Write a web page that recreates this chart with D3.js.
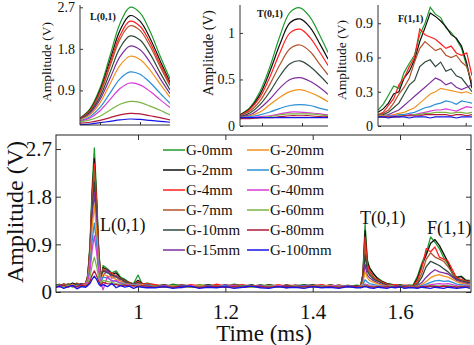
<!DOCTYPE html>
<html>
<head>
<meta charset="utf-8">
<script src="https://cdn.jsdelivr.net/npm/d3@7"></script>
<style>
  body { margin: 0; background: #fff; }
  svg { display: block; font-family: "Liberation Serif", "Times New Roman", serif; }
</style>
</head>
<body>
<div id="chart"></div>
<script>
// Guided-wave amplitude vs time for different gap sizes
const seriesNames = ['G-0mm', 'G-2mm', 'G-4mm', 'G-7mm', 'G-10mm', 'G-15mm',
                     'G-20mm', 'G-30mm', 'G-40mm', 'G-60mm', 'G-80mm', 'G-100mm'];
const seriesColors = ['#1f9a2b', '#111111', '#ff1f1f', '#b0522a', '#2e4a3c', '#7e2f9e',
                      '#f0921e', '#2b8fd6', '#d63bd6', '#7cb342', '#b2183c', '#1414e6'];

const mainXTicks = [1, 1.2, 1.4, 1.6];
const mainYTicks = [0, 0.9, 1.8, 2.7];

// main panel time base (ms)
const mainTime = [0.81,0.82,0.83,0.84,0.85,0.86,0.87,0.88,
  0.885,0.89,0.895,0.90,0.905,0.91,0.915,
  0.92,0.93,0.94,0.95,0.96,0.97,0.98,0.99,1.00,1.01,1.02,
  1.04,1.06,1.08,1.10,1.12,1.14,1.16,1.18,1.20,1.22,1.24,1.26,1.28,1.30,1.32,1.34,1.36,1.38,1.40,1.42,1.44,1.46,1.48,1.50,
  1.51,1.515,1.52,1.525,1.53,1.54,1.55,1.56,1.57,1.58,1.59,1.60,1.61,1.62,
  1.63,1.64,1.65,1.66,1.67,1.68,1.69,1.70,1.71,1.72,1.73,1.74,1.75,1.76];

// main panel amplitudes (V), one row per series
const mainAmp = [
  [0.12,0.15,0.10,0.16,0.13,0.17,0.12,0.15, 0.33,0.90,1.99,2.72,1.89,0.82,0.25,
   0.50,0.44,0.36,0.40,0.28,0.24,0.18,0.16,0.32,0.14,0.17,
   0.13,0.10,0.15,0.12,0.09,0.14,0.11,0.13,0.10,0.15,0.12,0.10,0.14,0.11,0.13,0.09,0.12,0.14,0.10,0.13,0.11,0.12,0.10,0.13,
   0.12,0.35,1.28,0.62,0.44,0.32,0.26,0.20,0.16,0.15,0.13,0.14,0.12,0.13,
   0.13,0.30,0.55,0.74,1.04,0.94,0.82,0.65,0.52,0.34,0.27,0.30,0.23,0.22],
  [0.14,0.11,0.15,0.12,0.17,0.13,0.16,0.14, 0.31,0.84,1.85,2.52,1.75,0.77,0.24,
   0.46,0.42,0.34,0.36,0.26,0.22,0.17,0.15,0.22,0.16,0.13,
   0.11,0.14,0.10,0.13,0.12,0.09,0.14,0.10,0.13,0.11,0.09,0.13,0.10,0.14,0.11,0.12,0.10,0.13,0.11,0.09,0.14,0.10,0.12,0.11,
   0.12,0.33,1.16,0.58,0.46,0.34,0.24,0.19,0.16,0.14,0.12,0.13,0.11,0.12,
   0.12,0.26,0.50,0.70,0.92,0.99,0.88,0.72,0.56,0.36,0.28,0.29,0.22,0.20],
  [0.10,0.14,0.12,0.15,0.11,0.16,0.13,0.17, 0.30,0.81,1.78,2.42,1.68,0.74,0.24,
   0.42,0.38,0.36,0.30,0.26,0.20,0.18,0.14,0.20,0.15,0.16,
   0.14,0.11,0.12,0.09,0.14,0.12,0.10,0.15,0.11,0.12,0.14,0.10,0.12,0.09,0.14,0.11,0.13,0.10,0.12,0.14,0.10,0.13,0.11,0.12,
   0.11,0.30,1.04,0.52,0.40,0.28,0.23,0.18,0.15,0.13,0.14,0.12,0.13,0.11,
   0.11,0.22,0.46,0.82,0.76,0.85,0.66,0.62,0.58,0.42,0.26,0.24,0.21,0.19],
  [0.13,0.10,0.16,0.12,0.15,0.11,0.14,0.16, 0.29,0.77,1.69,2.30,1.60,0.71,0.23,
   0.44,0.40,0.30,0.32,0.24,0.21,0.16,0.15,0.19,0.13,0.15,
   0.10,0.13,0.11,0.14,0.10,0.12,0.13,0.09,0.12,0.14,0.10,0.12,0.11,0.13,0.09,0.14,0.11,0.10,0.13,0.11,0.12,0.09,0.13,0.10,
   0.12,0.27,0.87,0.46,0.36,0.27,0.21,0.17,0.14,0.13,0.12,0.11,0.12,0.13,
   0.11,0.18,0.36,0.62,0.74,0.66,0.62,0.58,0.48,0.36,0.24,0.22,0.20,0.18],
  [0.11,0.13,0.11,0.14,0.12,0.15,0.11,0.13, 0.28,0.71,1.53,2.08,1.45,0.65,0.22,
   0.40,0.36,0.32,0.28,0.25,0.19,0.17,0.13,0.18,0.14,0.12,
   0.12,0.09,0.13,0.11,0.12,0.10,0.14,0.11,0.09,0.13,0.11,0.14,0.09,0.12,0.10,0.13,0.09,0.12,0.14,0.10,0.11,0.13,0.09,0.12,
   0.11,0.24,0.70,0.40,0.32,0.24,0.20,0.16,0.13,0.12,0.11,0.13,0.11,0.12,
   0.10,0.15,0.28,0.48,0.58,0.54,0.50,0.44,0.38,0.30,0.24,0.21,0.19,0.17],
  [0.09,0.12,0.14,0.10,0.13,0.11,0.15,0.12, 0.26,0.65,1.39,1.88,1.32,0.60,0.21,
   0.30,0.42,0.26,0.30,0.20,0.18,0.14,0.15,0.16,0.12,0.14,
   0.09,0.12,0.10,0.13,0.09,0.11,0.12,0.10,0.14,0.09,0.12,0.10,0.13,0.10,0.12,0.08,0.13,0.11,0.09,0.12,0.10,0.11,0.12,0.09,
   0.10,0.20,0.52,0.32,0.27,0.21,0.17,0.14,0.12,0.11,0.12,0.10,0.11,0.10,
   0.10,0.12,0.18,0.28,0.36,0.42,0.38,0.36,0.34,0.28,0.22,0.19,0.17,0.15],
  [0.12,0.10,0.13,0.11,0.14,0.10,0.12,0.14, 0.24,0.58,1.21,1.64,1.15,0.53,0.20,
   0.34,0.30,0.28,0.24,0.20,0.16,0.15,0.13,0.15,0.14,0.12,
   0.11,0.10,0.12,0.09,0.11,0.13,0.09,0.12,0.10,0.11,0.09,0.12,0.10,0.11,0.13,0.10,0.11,0.09,0.12,0.10,0.13,0.09,0.11,0.10,
   0.11,0.17,0.39,0.27,0.22,0.18,0.15,0.13,0.11,0.12,0.10,0.11,0.10,0.11,
   0.10,0.11,0.14,0.20,0.27,0.31,0.33,0.30,0.28,0.24,0.19,0.17,0.15,0.14],
  [0.10,0.13,0.09,0.12,0.10,0.13,0.11,0.12, 0.21,0.47,0.97,1.30,0.92,0.44,0.18,
   0.28,0.26,0.22,0.20,0.17,0.15,0.13,0.14,0.13,0.12,0.13,
   0.10,0.11,0.09,0.12,0.10,0.09,0.11,0.10,0.12,0.09,0.11,0.10,0.09,0.12,0.10,0.11,0.09,0.12,0.10,0.11,0.09,0.10,0.12,0.10,
   0.10,0.13,0.23,0.19,0.16,0.14,0.12,0.11,0.10,0.11,0.09,0.10,0.11,0.10,
   0.09,0.10,0.12,0.15,0.18,0.21,0.22,0.20,0.21,0.18,0.15,0.14,0.13,0.12],
  [0.11,0.09,0.12,0.10,0.13,0.09,0.11,0.13, 0.20,0.40,0.80,1.06,0.76,0.37,0.17,
   0.04,0.30,0.20,0.22,0.16,0.13,0.14,0.11,0.13,0.12,0.10,
   0.09,0.11,0.10,0.08,0.12,0.10,0.09,0.11,0.10,0.12,0.09,0.10,0.11,0.09,0.12,0.10,0.09,0.11,0.10,0.09,0.11,0.12,0.09,0.10,
   0.09,0.11,0.15,0.14,0.12,0.11,0.10,0.11,0.09,0.10,0.09,0.10,0.09,0.10,
   0.09,0.09,0.10,0.12,0.14,0.15,0.16,0.15,0.16,0.14,0.12,0.11,0.12,0.10],
  [0.10,0.12,0.10,0.13,0.09,0.12,0.10,0.12, 0.16,0.28,0.51,0.66,0.49,0.27,0.15,
   0.22,0.20,0.18,0.16,0.14,0.13,0.12,0.13,0.11,0.12,0.11,
   0.10,0.09,0.11,0.10,0.09,0.11,0.10,0.12,0.09,0.10,0.11,0.09,0.10,0.12,0.09,0.10,0.11,0.09,0.10,0.11,0.09,0.11,0.10,0.09,
   0.10,0.11,0.13,0.12,0.11,0.10,0.11,0.09,0.10,0.11,0.09,0.10,0.10,0.09,
   0.09,0.10,0.09,0.11,0.12,0.12,0.11,0.12,0.12,0.11,0.10,0.11,0.10,0.09],
  [0.09,0.11,0.13,0.09,0.12,0.10,0.13,0.11, 0.14,0.20,0.32,0.40,0.31,0.20,0.13,
   0.18,0.16,0.15,0.14,0.12,0.13,0.11,0.12,0.10,0.12,0.11,
   0.09,0.10,0.09,0.11,0.10,0.09,0.10,0.11,0.09,0.10,0.09,0.11,0.10,0.09,0.10,0.11,0.09,0.10,0.11,0.09,0.10,0.09,0.11,0.10,
   0.09,0.10,0.11,0.11,0.10,0.09,0.10,0.09,0.10,0.09,0.10,0.09,0.10,0.09,
   0.09,0.09,0.10,0.10,0.11,0.10,0.10,0.11,0.10,0.10,0.09,0.10,0.09,0.10],
  [0.08,0.11,0.07,0.10,0.12,0.06,0.10,0.09, 0.12,0.16,0.24,0.30,0.24,0.15,0.11,
   0.14,0.10,0.16,0.08,0.12,0.09,0.11,0.07,0.10,0.09,0.08,
   0.08,0.10,0.07,0.09,0.11,0.07,0.09,0.08,0.10,0.07,0.09,0.11,0.08,0.07,0.10,0.08,0.09,0.07,0.10,0.08,0.09,0.07,0.10,0.08,
   0.08,0.09,0.10,0.09,0.08,0.07,0.09,0.08,0.07,0.09,0.08,0.10,0.07,0.08,
   0.08,0.07,0.09,0.08,0.07,0.09,0.08,0.07,0.09,0.08,0.07,0.08,0.09,0.07]
];

// inset L(0,1)
const lTime = [0.875,0.88,0.885,0.89,0.895,0.9,0.905,0.91,0.915,0.92];
const lAmp = [
  [0.30,0.50,0.95,1.65,2.35,2.70,2.58,2.18,1.65,1.15],
  [0.29,0.48,0.90,1.55,2.20,2.52,2.40,2.03,1.55,1.08],
  [0.29,0.46,0.86,1.48,2.09,2.40,2.29,1.94,1.48,1.04],
  [0.28,0.45,0.83,1.42,2.01,2.30,2.20,1.86,1.42,1.00],
  [0.28,0.43,0.76,1.29,1.82,2.08,1.99,1.69,1.29,0.91],
  [0.27,0.40,0.70,1.16,1.63,1.86,1.78,1.51,1.16,0.83],
  [0.26,0.37,0.63,1.04,1.44,1.64,1.57,1.34,1.04,0.75],
  [0.24,0.33,0.53,0.84,1.15,1.30,1.25,1.07,0.84,0.62],
  [0.23,0.30,0.46,0.70,0.94,1.06,1.02,0.88,0.70,0.53],
  [0.22,0.26,0.34,0.47,0.60,0.66,0.64,0.56,0.47,0.37],
  [0.19,0.21,0.25,0.31,0.37,0.40,0.39,0.35,0.31,0.26],
  [0.16,0.17,0.20,0.23,0.26,0.28,0.27,0.25,0.23,0.21]
];

// inset T(0,1)
const tTime = [1.505,1.5075,1.51,1.5125,1.515,1.5175,1.52,1.5225,1.525,1.527];
const tAmp = [
  [0.12,0.20,0.37,0.64,0.97,1.22,1.27,1.17,0.97,0.79],
  [0.12,0.19,0.34,0.59,0.88,1.11,1.15,1.06,0.88,0.72],
  [0.11,0.18,0.31,0.53,0.79,1.00,1.04,0.95,0.79,0.65],
  [0.11,0.16,0.27,0.45,0.66,0.83,0.87,0.80,0.66,0.55],
  [0.10,0.14,0.23,0.37,0.54,0.67,0.70,0.64,0.54,0.45],
  [0.10,0.12,0.19,0.29,0.41,0.50,0.52,0.48,0.41,0.34],
  [0.09,0.11,0.15,0.23,0.31,0.37,0.39,0.36,0.31,0.26],
  [0.09,0.10,0.12,0.15,0.19,0.22,0.23,0.22,0.19,0.17],
  [0.08,0.09,0.10,0.11,0.13,0.15,0.15,0.14,0.13,0.12],
  [0.08,0.09,0.09,0.10,0.12,0.13,0.13,0.13,0.12,0.11],
  [0.08,0.08,0.09,0.09,0.10,0.11,0.11,0.11,0.10,0.10],
  [0.09,0.09,0.09,0.09,0.09,0.09,0.09,0.09,0.09,0.09]
];

// inset F(1,1)
const fTime = [1.636,1.641,1.646,1.651,1.656,1.661,1.666,1.671,1.676,1.681,
               1.686,1.691,1.696,1.701,1.706,1.711,1.716,1.721,1.726];
const fAmp = [
  [0.14,0.19,0.27,0.35,0.33,0.47,0.55,0.62,0.80,0.90,1.04,0.98,0.95,0.86,0.82,0.76,0.68,0.52,0.36],
  [0.12,0.15,0.20,0.28,0.30,0.42,0.48,0.58,0.74,0.86,0.99,0.96,0.92,0.87,0.80,0.77,0.70,0.55,0.33],
  [0.10,0.12,0.18,0.24,0.36,0.42,0.52,0.60,0.85,0.80,0.78,0.76,0.72,0.68,0.70,0.64,0.62,0.64,0.44],
  [0.10,0.11,0.14,0.20,0.28,0.34,0.42,0.56,0.68,0.74,0.70,0.66,0.68,0.62,0.60,0.62,0.56,0.52,0.38],
  [0.09,0.10,0.12,0.16,0.20,0.28,0.36,0.40,0.52,0.56,0.58,0.52,0.56,0.48,0.50,0.44,0.42,0.36,0.30],
  [0.09,0.09,0.10,0.12,0.14,0.18,0.22,0.26,0.30,0.34,0.38,0.42,0.40,0.36,0.38,0.34,0.32,0.34,0.36],
  [0.09,0.09,0.09,0.10,0.11,0.12,0.14,0.16,0.20,0.24,0.28,0.30,0.33,0.32,0.31,0.30,0.29,0.30,0.28],
  [0.08,0.08,0.09,0.09,0.10,0.10,0.11,0.12,0.14,0.16,0.17,0.19,0.20,0.22,0.21,0.19,0.22,0.21,0.20],
  [0.08,0.08,0.08,0.09,0.09,0.09,0.10,0.10,0.11,0.12,0.13,0.14,0.14,0.15,0.14,0.13,0.15,0.17,0.16],
  [0.08,0.08,0.08,0.08,0.09,0.09,0.09,0.10,0.10,0.11,0.11,0.12,0.12,0.12,0.11,0.12,0.12,0.11,0.12],
  [0.08,0.08,0.08,0.08,0.08,0.09,0.09,0.09,0.09,0.10,0.10,0.10,0.10,0.10,0.09,0.10,0.10,0.09,0.10],
  [0.08,0.08,0.07,0.08,0.08,0.08,0.07,0.08,0.08,0.08,0.07,0.08,0.08,0.08,0.08,0.07,0.08,0.08,0.08]
];

const W = 474, H = 345;
const svg = d3.select('#chart').append('svg')
    .attr('width', W)
    .attr('height', H);

// ---------- main panel ----------
const box = { left: 56, right: 471, top: 135, bottom: 292 };
const x = d3.scaleLinear().domain([0.8122, 1.7625]).range([box.left, box.right]);
const y = d3.scaleLinear().domain([0, 2.965]).range([box.bottom, box.top]);

svg.append('clipPath').attr('id', 'clip-main')
  .append('rect')
    .attr('x', box.left).attr('y', box.top)
    .attr('width', box.right - box.left).attr('height', box.bottom - box.top);

const mainLine = d3.line().x(d => x(d[0])).y(d => y(d[1]));
const gMain = svg.append('g').attr('clip-path', 'url(#clip-main)');
mainAmp.forEach((vals, i) => {
    gMain.append('path')
        .datum(vals.map((v, k) => [mainTime[k], v]))
        .attr('fill', 'none')
        .attr('stroke', seriesColors[i])
        .attr('stroke-width', 1.3)
        .attr('stroke-linejoin', 'round')
        .attr('d', mainLine);
});

function styleAxis(g, size) {
    g.attr('font-family', '"Liberation Serif", "Times New Roman", serif')
     .attr('font-size', size);
    g.select('.domain').remove();
    g.selectAll('.tick line').attr('stroke', '#333');
    g.selectAll('.tick text').attr('fill', '#111');
}

svg.append('g')
    .attr('transform', `translate(0,${box.bottom})`)
    .call(d3.axisBottom(x).tickValues(mainXTicks).tickFormat(d => String(d))
        .tickSizeInner(-5).tickSizeOuter(0).tickPadding(12))
    .call(g => styleAxis(g, 21));
svg.append('g')
    .attr('transform', `translate(0,${box.top})`)
    .call(d3.axisTop(x).tickValues(mainXTicks).tickFormat('')
        .tickSizeInner(-5).tickSizeOuter(0))
    .call(g => styleAxis(g, 21));
svg.append('g')
    .attr('transform', `translate(${box.left},0)`)
    .call(d3.axisLeft(y).tickValues(mainYTicks).tickFormat(d => String(d))
        .tickSizeInner(-5).tickSizeOuter(0).tickPadding(4))
    .call(g => styleAxis(g, 21));
svg.append('g')
    .attr('transform', `translate(${box.right},0)`)
    .call(d3.axisRight(y).tickValues(mainYTicks).tickFormat('')
        .tickSizeInner(-5).tickSizeOuter(0))
    .call(g => styleAxis(g, 21));

svg.append('rect')
    .attr('x', box.left).attr('y', box.top)
    .attr('width', box.right - box.left).attr('height', box.bottom - box.top)
    .attr('fill', 'none')
    .attr('stroke', '#222')
    .attr('stroke-width', 1);

// axis titles
svg.append('text')
    .attr('transform', 'translate(23,212) rotate(-90)')
    .attr('text-anchor', 'middle')
    .attr('font-size', 24)
    .attr('fill', '#111')
    .text('Amplitude (V)');
svg.append('text')
    .attr('x', 264).attr('y', 341)
    .attr('text-anchor', 'middle')
    .attr('font-size', 23)
    .attr('fill', '#111')
    .text('Time (ms)');

// mode labels
const modeLabels = [
    { text: 'L(0,1)', x: 100, y: 231 },
    { text: 'T(0,1)', x: 360, y: 224 },
    { text: 'F(1,1)', x: 427, y: 234 }
];
modeLabels.forEach(m => {
    svg.append('text')
        .attr('x', m.x).attr('y', m.y)
        .attr('font-size', 18)
        .attr('fill', '#111')
        .text(m.text);
});

// legend, two columns of six
seriesNames.forEach((name, i) => {
    const col = Math.floor(i / 6), row = i % 6;
    const lx = col === 0 ? 163 : 247;
    const ly = 150 + row * 20;
    svg.append('line')
        .attr('x1', lx).attr('x2', lx + 22)
        .attr('y1', ly).attr('y2', ly)
        .attr('stroke', seriesColors[i])
        .attr('stroke-width', 1.5);
    svg.append('text')
        .attr('x', lx + 23).attr('y', ly)
        .attr('dy', '0.35em')
        .attr('font-size', 15)
        .attr('fill', '#111')
        .text(name);
});

// ---------- insets ----------
const insets = [
    { id: 'L', time: lTime, amp: lAmp, xd: [0.875, 0.92], xr: [80, 170], yd: [0.15, 2.75], yr: [125, 5],
      yTicks: [0.9, 1.8, 2.7], xTicks: [0.885, 0.905], labelX: 51, labelY: 62, tag: 'L(0,1)', tagX: 90, tagY: 20,
      curve: d3.curveCatmullRom },
    { id: 'T', time: tTime, amp: tAmp, xd: [1.505, 1.527], xr: [240, 328], yd: [0, 1.3], yr: [126, 5],
      yTicks: [0, 0.5, 1], xTicks: [1.5105, 1.5205], labelX: 213, labelY: 53, tag: 'T(0,1)', tagX: 257, tagY: 17,
      curve: d3.curveCatmullRom },
    { id: 'F', time: fTime, amp: fAmp, xd: [1.636, 1.726], xr: [378, 472], yd: [0, 1.06], yr: [126, 5],
      yTicks: [0, 0.3, 0.6, 0.9], xTicks: [1.66, 1.72], labelX: 346, labelY: 60, tag: 'F(1,1)', tagX: 398, tagY: 22,
      curve: d3.curveLinear }
];

insets.forEach(c => {
    const ix = d3.scaleLinear().domain(c.xd).range(c.xr);
    const iy = d3.scaleLinear().domain(c.yd).range(c.yr);

    svg.append('clipPath').attr('id', 'clip-' + c.id)
      .append('rect')
        .attr('x', c.xr[0]).attr('y', c.yr[1])
        .attr('width', c.xr[1] - c.xr[0]).attr('height', c.yr[0] - c.yr[1]);

    const line = d3.line().x(d => ix(d[0])).y(d => iy(d[1])).curve(c.curve);
    const g = svg.append('g').attr('clip-path', `url(#clip-${c.id})`);
    c.amp.forEach((vals, i) => {
        g.append('path')
            .datum(vals.map((v, k) => [c.time[k], v]))
            .attr('fill', 'none')
            .attr('stroke', seriesColors[i])
            .attr('stroke-width', 1.2)
            .attr('d', line);
    });

    svg.append('g')
        .attr('transform', `translate(${c.xr[0]},0)`)
        .call(d3.axisLeft(iy).tickValues(c.yTicks).tickFormat(d => String(d))
            .tickSizeInner(-3).tickSizeOuter(0).tickPadding(5))
        .call(g => styleAxis(g, 14));
    svg.append('g')
        .attr('transform', `translate(0,${c.yr[0]})`)
        .call(d3.axisBottom(ix).tickValues(c.xTicks).tickFormat('')
            .tickSizeInner(-3).tickSizeOuter(0))
        .call(g => styleAxis(g, 14));

    // axis lines (left and bottom only)
    svg.append('path')
        .attr('d', `M${c.xr[0]},${c.yr[1]}V${c.yr[0]}H${c.xr[1]}`)
        .attr('fill', 'none')
        .attr('stroke', '#333')
        .attr('stroke-width', 1);

    svg.append('text')
        .attr('transform', `translate(${c.labelX},${c.labelY}) rotate(-90)`)
        .attr('text-anchor', 'middle')
        .attr('font-size', c.id === 'T' ? 14.5 : 13.5)
        .attr('fill', '#111')
        .text('Amplitude (V)');

    svg.append('text')
        .attr('x', c.tagX).attr('y', c.tagY)
        .attr('font-size', 10)
        .attr('font-weight', 'bold')
        .attr('fill', '#111')
        .text(c.tag);
});
</script>
</body>
</html>
